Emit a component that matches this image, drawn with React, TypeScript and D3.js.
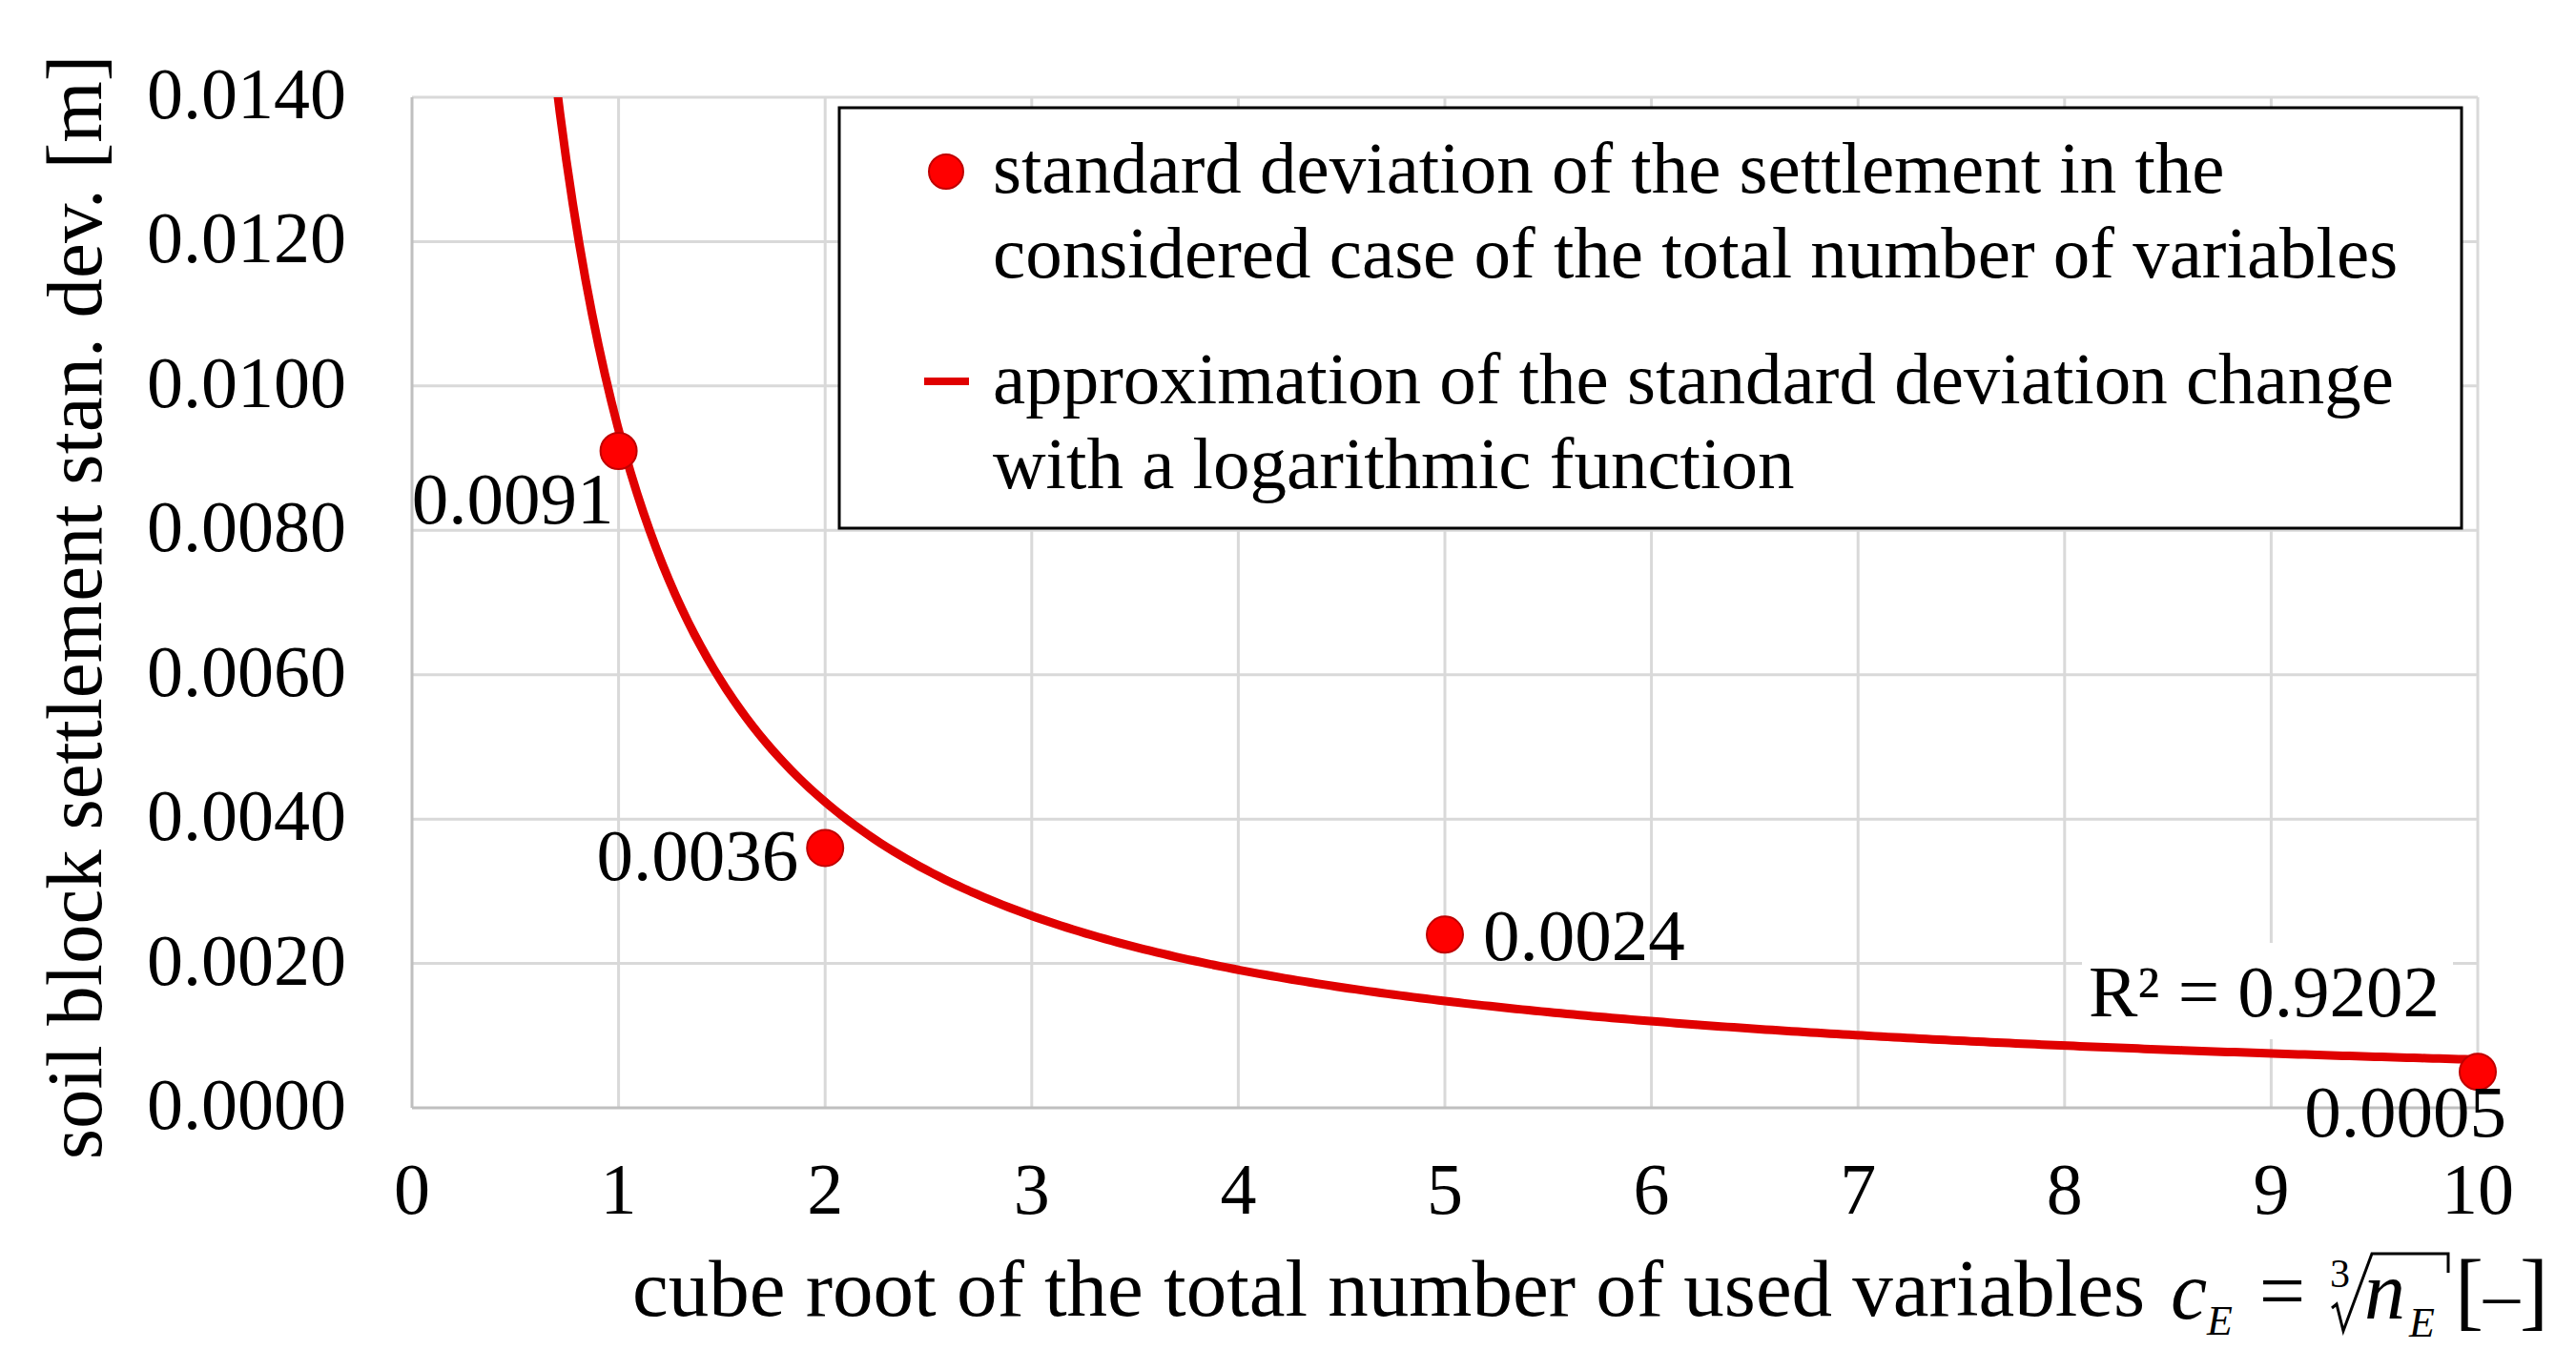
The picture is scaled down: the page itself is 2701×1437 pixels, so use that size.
import { scaleLinear, line, range, mean, sum } from "d3";

// measured points: cube root of number of variables vs. std. dev. of settlement [m]
const cubeRoots = [1, 2, 5, 10];
const stdDevs = [0.0091, 0.0036, 0.0024, 0.0005];
const pointLabels = ["0.0091", "0.0036", "0.0024", "0.0005"];

const xTicks = [0, 1, 2, 3, 4, 5, 6, 7, 8, 9, 10];
const yTicks = [0, 0.002, 0.004, 0.006, 0.008, 0.01, 0.012, 0.014];

const legendDotLines = [
  "standard deviation of the settlement in the",
  "considered case of the total number of variables",
];
const legendLineLines = [
  "approximation of the standard deviation change",
  "with a logarithmic function",
];
const r2Text = "R² = 0.9202";
const yTitle = "soil block settlement stan. dev. [m]";
const xTitle = "cube root of the total number of used variables";

const W = 2701;
const H = 1437;
const left = 432;
const right = 2598;
const top = 102;
const bottom = 1162;
const FONT = "'Liberation Serif', 'Times New Roman', serif";

// least squares fit in log-log space (trendline through the points)
function powerFit(xs: number[], ys: number[]) {
  const lx = xs.map(Math.log);
  const ly = ys.map(Math.log);
  const mx = mean(lx)!;
  const my = mean(ly)!;
  const sxy = sum(lx, (v, i) => (v - mx) * (ly[i] - my));
  const sxx = sum(lx, (v) => (v - mx) * (v - mx));
  const b = sxy / sxx;
  const a = Math.exp(my - b * mx);
  return { a, b };
}

// label offsets relative to each point
const labelPos = [
  { dx: -5, dy: 76, anchor: "end" },
  { dx: -28, dy: 34, anchor: "end" },
  { dx: 40, dy: 27, anchor: "start" },
  { dx: -76, dy: 68, anchor: "middle" },
];

export default function App() {
  const x = scaleLinear().domain([0, 10]).range([left, right]);
  const y = scaleLinear().domain([0, 0.014]).range([bottom, top]);

  const fit = powerFit(cubeRoots, stdDevs);
  const xStart = Math.pow(0.0145 / fit.a, 1 / fit.b);
  const curve = range(0, 301).map((i) => {
    const cx = xStart + ((10 - xStart) * i) / 300;
    return [cx, fit.a * Math.pow(cx, fit.b)] as [number, number];
  });
  const path = line<[number, number]>()
    .x((d) => x(d[0]))
    .y((d) => y(d[1]))(curve);

  const red = "#ff0000";
  const lineRed = "#e00000";
  const grid = "#d9d9d9";

  return (
    <svg
      width={W}
      height={H}
      style={{ position: "absolute", left: 0, top: 0, background: "#fff" }}
      fontFamily={FONT}
    >
      <defs>
        <clipPath id="plot">
          <rect x={left} y={top} width={right - left} height={bottom - top} />
        </clipPath>
      </defs>
      <rect width={W} height={H} fill="#fff" />

      {/* grid */}
      {yTicks.slice(1).map((t) => (
        <line key={"h" + t} x1={left} x2={right} y1={y(t)} y2={y(t)} stroke={grid} strokeWidth={3} />
      ))}
      {xTicks.slice(1).map((t) => (
        <line key={"v" + t} x1={x(t)} x2={x(t)} y1={top} y2={bottom} stroke={grid} strokeWidth={3} />
      ))}
      <line x1={left} x2={left} y1={top} y2={bottom} stroke="#bfbfbf" strokeWidth={3} />
      <line x1={left} x2={right} y1={bottom} y2={bottom} stroke="#bfbfbf" strokeWidth={3} />

      {/* tick labels */}
      {yTicks.map((t) => (
        <text key={"yl" + t} x={363} y={y(t) + 22} textAnchor="end" fontSize={76} fill="#000">
          {t.toFixed(4)}
        </text>
      ))}
      {xTicks.map((t) => (
        <text key={"xl" + t} x={x(t)} y={1273} textAnchor="middle" fontSize={76} fill="#000">
          {t}
        </text>
      ))}

      {/* legend */}
      <rect x={880} y={113} width={1701} height={441} fill="#fff" stroke="#000" strokeWidth={3} />
      <circle cx={992} cy={180} r={18} fill={red} stroke="#c00000" strokeWidth={2} />
      <line x1={969} x2={1016} y1={400} y2={400} stroke={lineRed} strokeWidth={8} />
      {legendDotLines.map((s, i) => (
        <text key={"ld" + i} x={1041} y={202 + i * 89} fontSize={77} fill="#000">
          {s}
        </text>
      ))}
      {legendLineLines.map((s, i) => (
        <text key={"ll" + i} x={1041} y={423 + i * 89} fontSize={77} fill="#000">
          {s}
        </text>
      ))}

      {/* R² label with white backing */}
      <rect x={2183} y={989} width={389} height={101} fill="#fff" />
      <text x={2190} y={1066} fontSize={77} fill="#000">
        {r2Text}
      </text>

      {/* trendline */}
      <path d={path ?? ""} fill="none" stroke={lineRed} strokeWidth={9} clipPath="url(#plot)" />

      {/* points */}
      {cubeRoots.map((c, i) => (
        <circle key={"p" + i} cx={x(c)} cy={y(stdDevs[i])} r={19} fill={red} stroke="#c00000" strokeWidth={2} />
      ))}
      {cubeRoots.map((c, i) => (
        <text
          key={"pl" + i}
          x={x(c) + labelPos[i].dx}
          y={y(stdDevs[i]) + labelPos[i].dy}
          textAnchor={labelPos[i].anchor as any}
          fontSize={77}
          fill="#000"
        >
          {pointLabels[i]}
        </text>
      ))}

      {/* y title */}
      <text
        transform={`translate(106, 637) rotate(-90)`}
        textAnchor="middle"
        fontSize={83}
        fill="#000"
      >
        {yTitle}
      </text>

      {/* x title */}
      <text x={663} y={1380} fontSize={85} fill="#000">
        {xTitle}
      </text>
      <text x={2276} y={1383} fontSize={86} fontStyle="italic" fill="#000">c</text>
      <text x={2314} y={1400} fontSize={44} fontStyle="italic" fill="#000">E</text>
      <text x={2393} y={1383} fontSize={86} textAnchor="middle" fill="#000">=</text>
      <text x={2443} y={1350} fontSize={42} fill="#000">3</text>
      <path
        d="M2445,1372 L2450,1368 L2457,1396 L2487,1315 L2567,1315 L2567,1335"
        fill="none"
        stroke="#000"
        strokeWidth={3}
      />
      <text x={2479} y={1383} fontSize={86} fontStyle="italic" fill="#000">n</text>
      <text x={2526} y={1402} fontSize={44} fontStyle="italic" fill="#000">E</text>
      <text x={2574} y={1384} fontSize={90} fill="#000">[</text>
      <text x={2604} y={1383} fontSize={76} fill="#000">–</text>
      <text x={2642} y={1384} fontSize={90} fill="#000">]</text>
    </svg>
  );
}
